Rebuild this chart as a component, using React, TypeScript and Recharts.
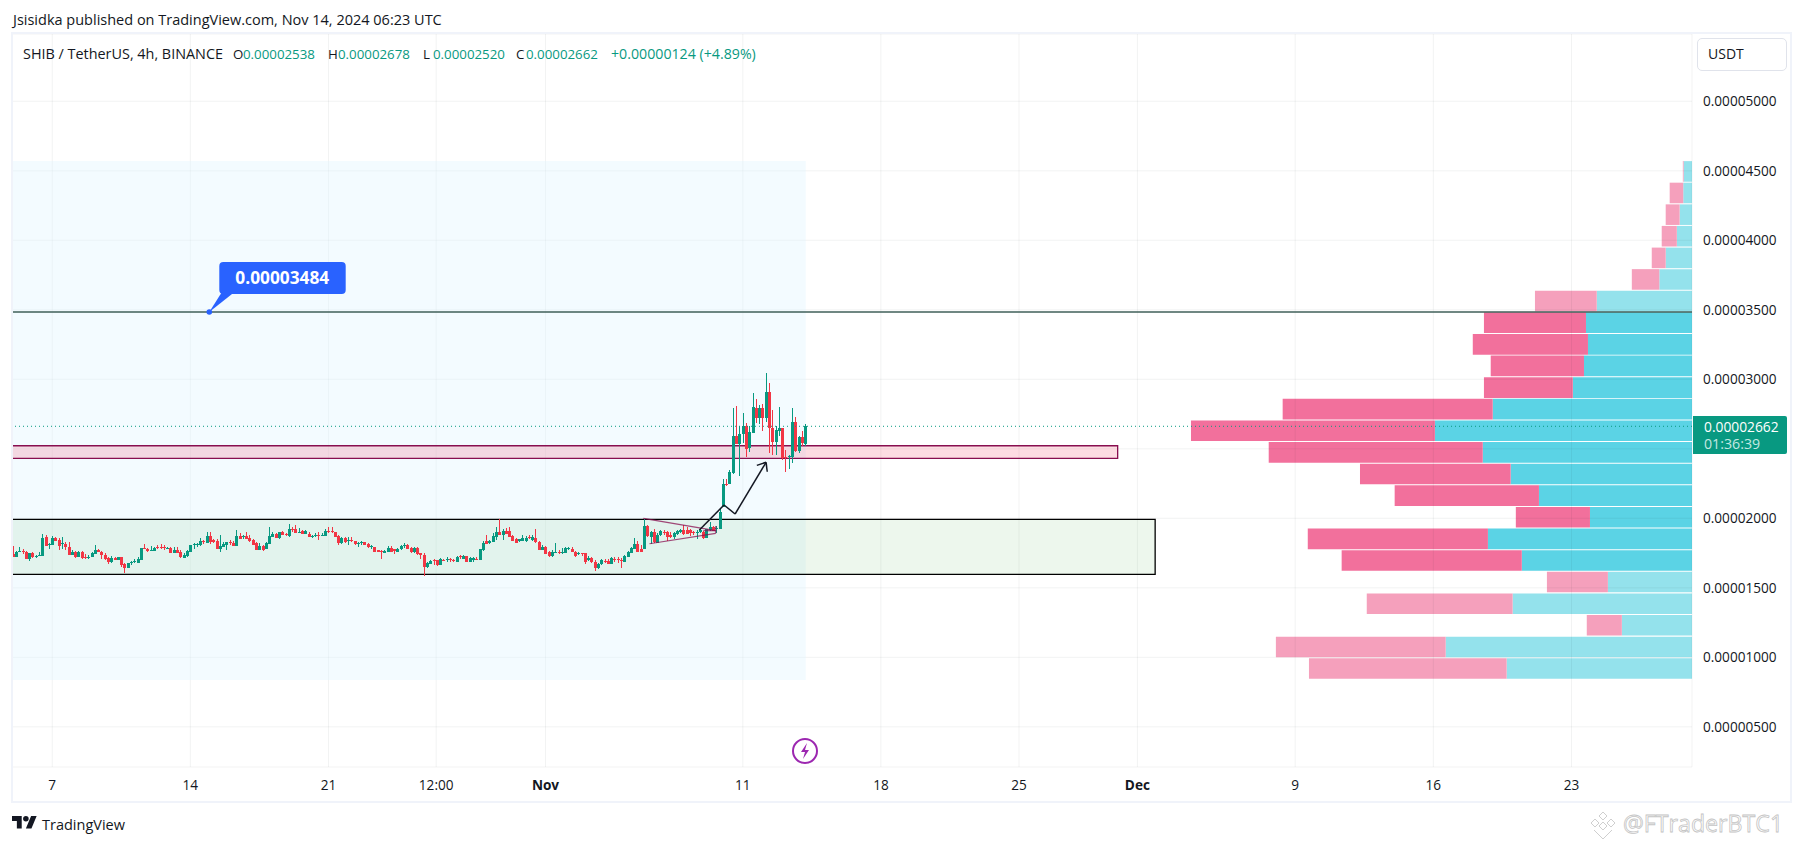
import {
  Bar,
  BarChart,
  CartesianGrid,
  Cell,
  ComposedChart,
  ReferenceArea,
  ReferenceDot,
  ReferenceLine,
  XAxis,
  YAxis,
} from "recharts"

// all prices are in units of 0.00000001 USDT, time is in days counted from Oct 1
const OPENS = [
  1743, 1724, 1758, 1765, 1760, 1707, 1750, 1722, 1726, 1731, 1865, 1806, 1808, 1858, 1846, 1813, 1815, 1794, 1736, 1760, 1724, 1760,
  1719, 1719, 1724, 1743, 1770, 1760, 1738, 1712, 1688, 1714, 1702, 1722, 1669, 1642, 1683, 1686, 1681, 1700, 1784, 1779, 1767, 1767,
  1794, 1791, 1791, 1784, 1786, 1753, 1770, 1755, 1717, 1726, 1758, 1813, 1813, 1810, 1834, 1825, 1873, 1841, 1837, 1779, 1794, 1808,
  1832, 1822, 1801, 1873, 1868, 1875, 1858, 1844, 1822, 1774, 1801, 1779, 1815, 1863, 1889, 1856, 1904, 1885, 1873, 1921, 1923, 1897,
  1911, 1885, 1887, 1868, 1875, 1880, 1875, 1873, 1906, 1906, 1901, 1873, 1825, 1858, 1839, 1841, 1837, 1818, 1825, 1827, 1818, 1791,
  1791, 1770, 1765, 1753, 1758, 1786, 1777, 1758,
  1777, 1803, 1810, 1786, 1758, 1789, 1748, 1736, 1650, 1674, 1698, 1698, 1666, 1700, 1700, 1705, 1698, 1686, 1729, 1705, 1729, 1688,
  1702, 1705, 1700, 1772, 1839, 1820, 1832, 1868, 1901, 1880, 1909, 1909, 1875, 1851, 1839, 1839, 1837, 1865, 1844, 1858, 1832, 1772,
  1796, 1760, 1731, 1755, 1760, 1748, 1753, 1782, 1782, 1760, 1746, 1750, 1748, 1698, 1714, 1688, 1640, 1669, 1695, 1693, 1671, 1707,
  1705, 1700, 1688, 1722, 1753, 1777, 1818, 1782, 1782, 1945, 1868, 1904, 1825, 1877, 1904, 1899, 1880, 1863, 1887, 1899, 1916, 1916,
  1916, 1901, 1899, 1899, 1904, 1858, 1916, 1940, 1928, 1925,
  2081, 2247, 2247, 2328, 2592, 2534, 2606, 2664, 2503, 2616, 2793, 2722, 2793, 2722, 2909, 2647, 2549, 2626, 2650, 2443, 2441, 2441,
  2693, 2482, 2585, 2538,
]
const HIGHS = [
  1801, 1767, 1791, 1782, 1765, 1753, 1758, 1736, 1758, 1887, 1880, 1825, 1873, 1863, 1858, 1868, 1827, 1832, 1772, 1765, 1765, 1765,
  1741, 1736, 1758, 1806, 1777, 1767, 1748, 1722, 1729, 1722, 1722, 1722, 1676, 1681, 1695, 1705, 1719, 1786, 1815, 1784, 1801, 1796,
  1810, 1815, 1808, 1796, 1791, 1791, 1791, 1770, 1748, 1772, 1808, 1820, 1822, 1858, 1844, 1899, 1899, 1849, 1849, 1880, 1832, 1832,
  1844, 1834, 1916, 1892, 1880, 1899, 1877, 1853, 1827, 1822, 1810, 1830, 1937, 1899, 1897, 1901, 1909, 1892, 1959, 1937, 1954, 1928,
  1916, 1916, 1899, 1882, 1892, 1899, 1897, 1923, 1937, 1937, 1901, 1880, 1863, 1865, 1863, 1863, 1839, 1832, 1837, 1830, 1825, 1808,
  1796, 1772, 1770, 1772, 1801, 1801, 1779, 1789,
  1808, 1820, 1815, 1791, 1791, 1791, 1753, 1748, 1688, 1698, 1705, 1700, 1714, 1710, 1719, 1712, 1710, 1729, 1738, 1738, 1729, 1724,
  1719, 1719, 1782, 1839, 1880, 1841, 1892, 1940, 1993, 1923, 1928, 1935, 1882, 1856, 1853, 1880, 1875, 1877, 1882, 1923, 1839, 1808,
  1801, 1767, 1772, 1822, 1772, 1784, 1791, 1796, 1791, 1765, 1760, 1753, 1753, 1729, 1724, 1700, 1681, 1707, 1705, 1710, 1719, 1724,
  1719, 1712, 1736, 1762, 1791, 1858, 1834, 1808, 1993, 1949, 1909, 1921, 1892, 1916, 1916, 1906, 1904, 1899, 1916, 1923, 1952, 1935,
  1921, 1911, 1916, 1925, 1911, 1925, 1976, 1945, 1945, 2065,
  2280, 2285, 2347, 2793, 2808, 2664, 2760, 2688, 2664, 2899, 2858, 2815, 2822, 3048, 2973, 2779, 2664, 2803, 2650, 2491, 2455, 2793,
  2731, 2592, 2630, 2678,
]
const LOWS = [
  1724, 1724, 1758, 1743, 1707, 1693, 1717, 1714, 1726, 1731, 1801, 1782, 1808, 1839, 1772, 1782, 1772, 1736, 1736, 1714, 1719, 1705,
  1710, 1710, 1722, 1743, 1755, 1707, 1700, 1674, 1681, 1700, 1698, 1652, 1606, 1642, 1666, 1676, 1681, 1700, 1777, 1760, 1767, 1767,
  1777, 1777, 1774, 1777, 1753, 1753, 1748, 1714, 1717, 1722, 1758, 1782, 1796, 1803, 1815, 1825, 1818, 1825, 1779, 1758, 1791, 1772,
  1806, 1801, 1801, 1849, 1849, 1849, 1832, 1810, 1774, 1774, 1765, 1779, 1815, 1863, 1858, 1851, 1880, 1875, 1868, 1904, 1894, 1894,
  1887, 1885, 1863, 1858, 1863, 1844, 1873, 1873, 1897, 1897, 1865, 1808, 1815, 1825, 1806, 1830, 1810, 1794, 1808, 1808, 1789, 1782,
  1758, 1755, 1707, 1750, 1755, 1755, 1743, 1758,
  1772, 1784, 1779, 1753, 1753, 1738, 1705, 1587, 1640, 1674, 1662, 1659, 1666, 1690, 1686, 1688, 1686, 1686, 1705, 1705, 1686, 1686,
  1688, 1700, 1700, 1767, 1815, 1815, 1832, 1844, 1880, 1844, 1885, 1868, 1834, 1820, 1827, 1834, 1832, 1851, 1839, 1825, 1772, 1772,
  1743, 1724, 1724, 1748, 1743, 1741, 1748, 1772, 1758, 1724, 1734, 1729, 1671, 1695, 1676, 1621, 1635, 1664, 1676, 1669, 1671, 1686,
  1676, 1645, 1686, 1719, 1753, 1777, 1758, 1758, 1782, 1868, 1815, 1825, 1825, 1873, 1880, 1837, 1856, 1849, 1882, 1897, 1882, 1885,
  1873, 1877, 1849, 1892, 1851, 1858, 1911, 1906, 1892, 1925,
  2081, 2232, 2247, 2319, 2534, 2307, 2539, 2443, 2479, 2616, 2683, 2678, 2630, 2695, 2467, 2455, 2455, 2592, 2419, 2335, 2355, 2395,
  2477, 2467, 2520, 2520,
]
const CLOSES = [
  1724, 1758, 1762, 1760, 1707, 1750, 1722, 1731, 1736, 1858, 1801, 1815, 1858, 1839, 1803, 1820, 1791, 1736, 1758, 1724, 1760, 1714,
  1714, 1724, 1750, 1770, 1760, 1738, 1705, 1688, 1712, 1702, 1722, 1666, 1642, 1676, 1688, 1690, 1707, 1786, 1777, 1765, 1772, 1786,
  1789, 1786, 1786, 1789, 1753, 1772, 1750, 1719, 1736, 1765, 1806, 1818, 1818, 1834, 1827, 1873, 1832, 1830, 1779, 1801, 1815, 1830,
  1827, 1801, 1873, 1851, 1873, 1851, 1839, 1810, 1774, 1801, 1774, 1825, 1870, 1889, 1861, 1901, 1882, 1880, 1923, 1913, 1894, 1901,
  1887, 1911, 1868, 1873, 1880, 1875, 1882, 1906, 1899, 1899, 1865, 1822, 1858, 1827, 1844, 1837, 1813, 1825, 1830, 1810, 1796, 1798,
  1760, 1760, 1760, 1765, 1786, 1758, 1767, 1777,
  1801, 1808, 1782, 1758, 1786, 1743, 1738, 1650, 1681, 1693, 1693, 1664, 1710, 1695, 1705, 1700, 1693, 1722, 1722, 1729, 1688, 1712,
  1712, 1700, 1777, 1825, 1818, 1834, 1875, 1901, 1880, 1911, 1889, 1868, 1839, 1825, 1849, 1861, 1856, 1858, 1863, 1827, 1772, 1796,
  1746, 1731, 1760, 1760, 1750, 1758, 1784, 1789, 1760, 1731, 1753, 1746, 1688, 1717, 1683, 1640, 1674, 1700, 1688, 1674, 1712, 1700,
  1698, 1693, 1729, 1760, 1784, 1818, 1758, 1758, 1945, 1873, 1904, 1830, 1882, 1909, 1899, 1863, 1863, 1892, 1906, 1916, 1885, 1887,
  1892, 1894, 1904, 1913, 1856, 1921, 1940, 1911, 1933, 2045,
  2247, 2240, 2333, 2592, 2534, 2606, 2664, 2499, 2623, 2803, 2722, 2793, 2722, 2909, 2647, 2549, 2635, 2650, 2431, 2436, 2448, 2693,
  2482, 2585, 2539, 2662,
]
const LAST_CANDLE_DAY = 44.1667

// fixed range volume profile, top row first
const VP_PRICES = [
  4492, 4337, 4181, 4026, 3870, 3715, 3559, 3404, 3248, 3093, 2937, 2782, 2626, 2471, 2315, 2160, 2004, 1849, 1693, 1538, 1382, 1227, 1071, 916,
]
const VP_BUY = [21, 22, 31, 38, 66, 82, 239, 266, 261, 271, 299, 500, 645, 525, 455, 384, 256, 512, 427, 211, 450, 176, 618, 465]
const VP_SELL = [2, 34, 35, 38, 35, 69, 155, 256, 289, 234, 223, 527, 612, 537, 378, 362, 186, 452, 452, 153, 366, 88, 426, 496]
const VALUE_AREA = [1620, 3484]

const PRICE_TICKS = [500, 1000, 1500, 2000, 2500, 3000, 3500, 4000, 4500, 5000]
const TICK_UNDER_TAG = 2500
const TIME_TICKS = [6, 13, 20, 25.46, 31, 41, 48, 55, 61, 69, 76, 83]
const TIME_LABELS = ["7", "14", "21", "12:00", "Nov", "11", "18", "25", "Dec", "9", "16", "23"]
const BOLD_LABELS = ["Nov", "Dec"]

const PRICE_DOMAIN = [211, 5484]
const DAY_DOMAIN = [3.96, 89.11]
const VOLUME_DOMAIN = [0, 4215]

const LINE_LEVEL = 3484
const LAST_PRICE = 2662
const CALLOUT_DAY = 13.96
const RANGE_BOX = { x2: 44.19, top: 4570, bottom: 837 }
const GREEN_ZONE = { x2: 61.9, top: 1992, bottom: 1597 }
const PINK_ZONE = { x2: 60, top: 2522, bottom: 2431 }

// [day, price] pairs
const TRIANGLE = [
  [[35.96, 2000], [39.63, 1911]],
  [[36.27, 1817], [39.63, 1892]],
  [[39.63, 1945], [39.63, 1892]],
  [[39.0, 1911], [39.63, 1911]],
]
const ARROW = [
  [[38.8, 1916], [40.05, 2096]],
  [[40.05, 2096], [40.61, 2031]],
  [[40.61, 2031], [42.18, 2403]],
  [[42.18, 2403], [41.71, 2381]],
  [[42.18, 2403], [42.24, 2335]],
]

const LEGEND_VALUES = [
  { x: 233, label: "O", value: "0.00002538" },
  { x: 328, label: "H", value: "0.00002678" },
  { x: 423, label: "L", value: "0.00002520" },
  { x: 516, label: "C", value: "0.00002662" },
]

const candles = OPENS.map((open, i) => ({
  day: LAST_CANDLE_DAY - (OPENS.length - 1 - i) / 6,
  open,
  high: HIGHS[i],
  low: LOWS[i],
  close: CLOSES[i],
}))
const profile = VP_PRICES.map((price, i) => ({ price, buy: VP_BUY[i], sell: VP_SELL[i] }))

const FONT = "'Open Sans', sans-serif"
const INK = "#131722"
const UP = "#089981"
const DOWN = "#F23645"
const MARGIN_TOP = 34

const formatPrice = (v: number) => (v / 1e8).toFixed(8)
const inValueArea = (price: number) => price > VALUE_AREA[0] && price < VALUE_AREA[1]

function Candle(props: any) {
  const { x, y, width, height, payload } = props
  const top = Math.min(y, y + height)
  const h = Math.abs(height)
  const yOf = (p: number) => top + ((payload.high - p) * h) / (payload.high - payload.low)
  const cx = Math.round(x + width / 2)
  const color = payload.close >= payload.open ? UP : DOWN
  const bodyTop = yOf(Math.max(payload.open, payload.close))
  const bodyBottom = yOf(Math.min(payload.open, payload.close))
  return (
    <g shapeRendering="crispEdges">
      <rect x={cx} y={top} width={1} height={h} fill={color} />
      <rect x={cx - 1} y={bodyTop} width={3} height={Math.max(bodyBottom - bodyTop, 1)} fill={color} />
    </g>
  )
}

function TimeTick({ x, y, payload }: any) {
  const label = TIME_LABELS[TIME_TICKS.indexOf(payload.value)]
  return (
    <text x={x} y={y + 15} textAnchor="middle" fontSize={13.6} fontFamily={FONT} fontWeight={BOLD_LABELS.includes(label) ? 700 : 400} fill={INK}>
      {label}
    </text>
  )
}

function Callout({ cx, cy }: any) {
  return (
    <g>
      <rect x={cx + 10} y={cy - 50} width={126.4} height={32} rx={4} fill="#2962FF" />
      <polygon points={`${cx},${cy} ${cx + 24},${cy - 19} ${cx + 12},${cy - 19}`} fill="#2962FF" />
      <circle cx={cx} cy={cy} r={2.8} fill="#2962FF" />
      <text x={cx + 73} y={cy - 28.5} textAnchor="middle" fontSize={17.3} fontWeight={700} fontFamily={FONT} fill="#fff">
        {formatPrice(LINE_LEVEL)}
      </text>
    </g>
  )
}

function Text({ x, y, children, color = INK, size = 13.3, weight = 400 }: any) {
  return (
    <div style={{ position: "absolute", left: x, top: y, fontSize: size, fontWeight: weight, color, lineHeight: "18px", whiteSpace: "nowrap" }}>
      {children}
    </div>
  )
}

export default function App() {
  return (
    <div style={{ position: "absolute", left: 0, top: 0, width: 1805, height: 846, background: "#fff", overflow: "hidden", fontFamily: FONT }}>
      <div style={{ position: "absolute", left: 0, top: 0 }}>
        <BarChart
          width={1805}
          height={846}
          data={profile}
          layout="vertical"
          margin={{ top: MARGIN_TOP, right: 113, bottom: 79, left: 12 }}
        >
          <XAxis type="number" domain={VOLUME_DOMAIN} reversed hide />
          <YAxis type="number" dataKey="price" domain={PRICE_DOMAIN} allowDataOverflow reversed hide />
          <Bar dataKey="buy" stackId="vp" barSize={20.6} isAnimationActive={false}>
            {profile.map((row) => (
              <Cell key={row.price} fill={inValueArea(row.price) ? "#5BD3E5" : "#94E2EC"} />
            ))}
          </Bar>
          <Bar dataKey="sell" stackId="vp" barSize={20.6} isAnimationActive={false}>
            {profile.map((row) => (
              <Cell key={row.price} fill={inValueArea(row.price) ? "#F2709C" : "#F5A0BC"} />
            ))}
          </Bar>
        </BarChart>
      </div>

      <div style={{ position: "absolute", left: 0, top: 0 }}>
        <ComposedChart width={1805} height={846} data={candles} margin={{ top: MARGIN_TOP, right: 14, bottom: 44, left: 12 }}>
          <ReferenceArea x1={DAY_DOMAIN[0]} x2={RANGE_BOX.x2} y1={RANGE_BOX.bottom} y2={RANGE_BOX.top} fill="#E1F5FE" fillOpacity={0.4} stroke="none" />
          <CartesianGrid stroke="#2A2E39" strokeOpacity={0.06} />
          <XAxis
            type="number"
            dataKey="day"
            scale="linear"
            domain={DAY_DOMAIN}
            ticks={TIME_TICKS}
            interval={0}
            height={35}
            axisLine={false}
            tickLine={false}
            tick={<TimeTick />}
            allowDataOverflow
          />
          <YAxis
            orientation="right"
            width={99}
            domain={PRICE_DOMAIN}
            ticks={PRICE_TICKS}
            interval={0}
            axisLine={false}
            tickLine={false}
            tickSize={0}
            tickMargin={11}
            tickFormatter={(v: number) => (v === TICK_UNDER_TAG ? "" : formatPrice(v))}
            tick={{ fontSize: 13.6, fontFamily: FONT, fill: INK }}
            allowDataOverflow
          />
          <ReferenceArea
            x1={DAY_DOMAIN[0]}
            x2={GREEN_ZONE.x2}
            y1={GREEN_ZONE.bottom}
            y2={GREEN_ZONE.top}
            fill="#4CAF50"
            fillOpacity={0.1}
            stroke="#000"
            strokeWidth={1.3}
          />
          <ReferenceArea
            x1={DAY_DOMAIN[0]}
            x2={PINK_ZONE.x2}
            y1={PINK_ZONE.bottom}
            y2={PINK_ZONE.top}
            fill="#F23F5F"
            fillOpacity={0.18}
            stroke="#880E4F"
            strokeWidth={1.3}
          />
          <Bar dataKey={(d: any) => [d.low, d.high]} barSize={3} shape={<Candle />} isAnimationActive={false} />
          {TRIANGLE.map((seg, i) => (
            <ReferenceLine
              key={`tri${i}`}
              segment={[{ x: seg[0][0], y: seg[0][1] }, { x: seg[1][0], y: seg[1][1] }]}
              stroke="#880E4F"
              strokeOpacity={0.75}
              strokeWidth={1.2}
            />
          ))}
          {ARROW.map((seg, i) => (
            <ReferenceLine
              key={`arrow${i}`}
              segment={[{ x: seg[0][0], y: seg[0][1] }, { x: seg[1][0], y: seg[1][1] }]}
              stroke={INK}
              strokeWidth={1.5}
            />
          ))}
          <ReferenceLine y={LAST_PRICE} stroke={UP} strokeWidth={1} strokeDasharray="1 3" />
          <ReferenceLine y={LINE_LEVEL} stroke="#3F5F59" strokeWidth={1.4} />
          <ReferenceDot x={CALLOUT_DAY} y={LINE_LEVEL} shape={<Callout />} />
        </ComposedChart>
      </div>

      {/* frame of the chart */}
      <div style={{ position: "absolute", left: 11, top: 32, width: 1777, height: 767, border: "2px solid #F0F3FA", pointerEvents: "none" }} />

      <Text x={13} y={11} size={14.5}>Jsisidka published on TradingView.com, Nov 14, 2024 06:23 UTC</Text>
      <Text x={23} y={45} size={14.4}>SHIB / TetherUS, 4h, BINANCE</Text>
      {LEGEND_VALUES.map((item) => (
        <span key={item.label}>
          <Text x={item.x} y={45}>{item.label}</Text>
          <Text x={item.x + 10} y={45} color={UP}>{item.value}</Text>
        </span>
      ))}
      <Text x={611} y={45} color={UP} size={14.2}>+0.00000124 (+4.89%)</Text>

      <div style={{ position: "absolute", left: 1697, top: 38, width: 88, height: 31, border: "1px solid #E0E3EB", borderRadius: 5, background: "#fff" }} />
      <Text x={1708} y={45} size={14}>USDT</Text>

      <div style={{ position: "absolute", left: 1693, top: 416, width: 94, height: 38, background: UP, borderRadius: "0 2px 2px 0" }} />
      <Text x={1704} y={418} color="#fff" size={13.8}>{formatPrice(LAST_PRICE)}</Text>
      <Text x={1704} y={435} color="#C4E8E1" size={14.2}>01:36:39</Text>

      <svg style={{ position: "absolute", left: 789, top: 735 }} width={32} height={32} viewBox="0 0 32 32">
        <circle cx={16} cy={16} r={12} fill="#fff" stroke="#9C27B0" strokeWidth={2} />
        <path d="M18 8 L12 17 L16 17 L14 24 L20 15 L16 15 Z" fill="#9C27B0" />
      </svg>

      <svg style={{ position: "absolute", left: 12, top: 813 }} width={25} height={20} viewBox="0 0 36 28">
        <path d="M14 22H7V11H0V4h14v18zM28 22h-8l7.5-18h8L28 22z" fill="#131722" />
        <circle cx={20} cy={8} r={4} fill="#131722" />
      </svg>
      <Text x={42} y={816} size={14.5} color="#131722">TradingView</Text>

      <svg style={{ position: "absolute", left: 1590, top: 808 }} width={215} height={36}>
        <path d="M13 4 L17 8 L13 12 L9 8 Z M5 11 L9 15 L5 19 L1 15 Z M21 11 L25 15 L21 19 L17 15 Z M13 14 L17 18 L13 22 L9 18 Z M4 22 L13 31 L22 22" fill="none" stroke="#C9C9C9" strokeWidth={0.9} />
        <text x={33} y={24} fontSize={23.2} fontFamily={FONT} fill="#fff" stroke="#C4C4C4" strokeWidth={0.8}>@FTraderBTC1</text>
      </svg>
    </div>
  )
}
